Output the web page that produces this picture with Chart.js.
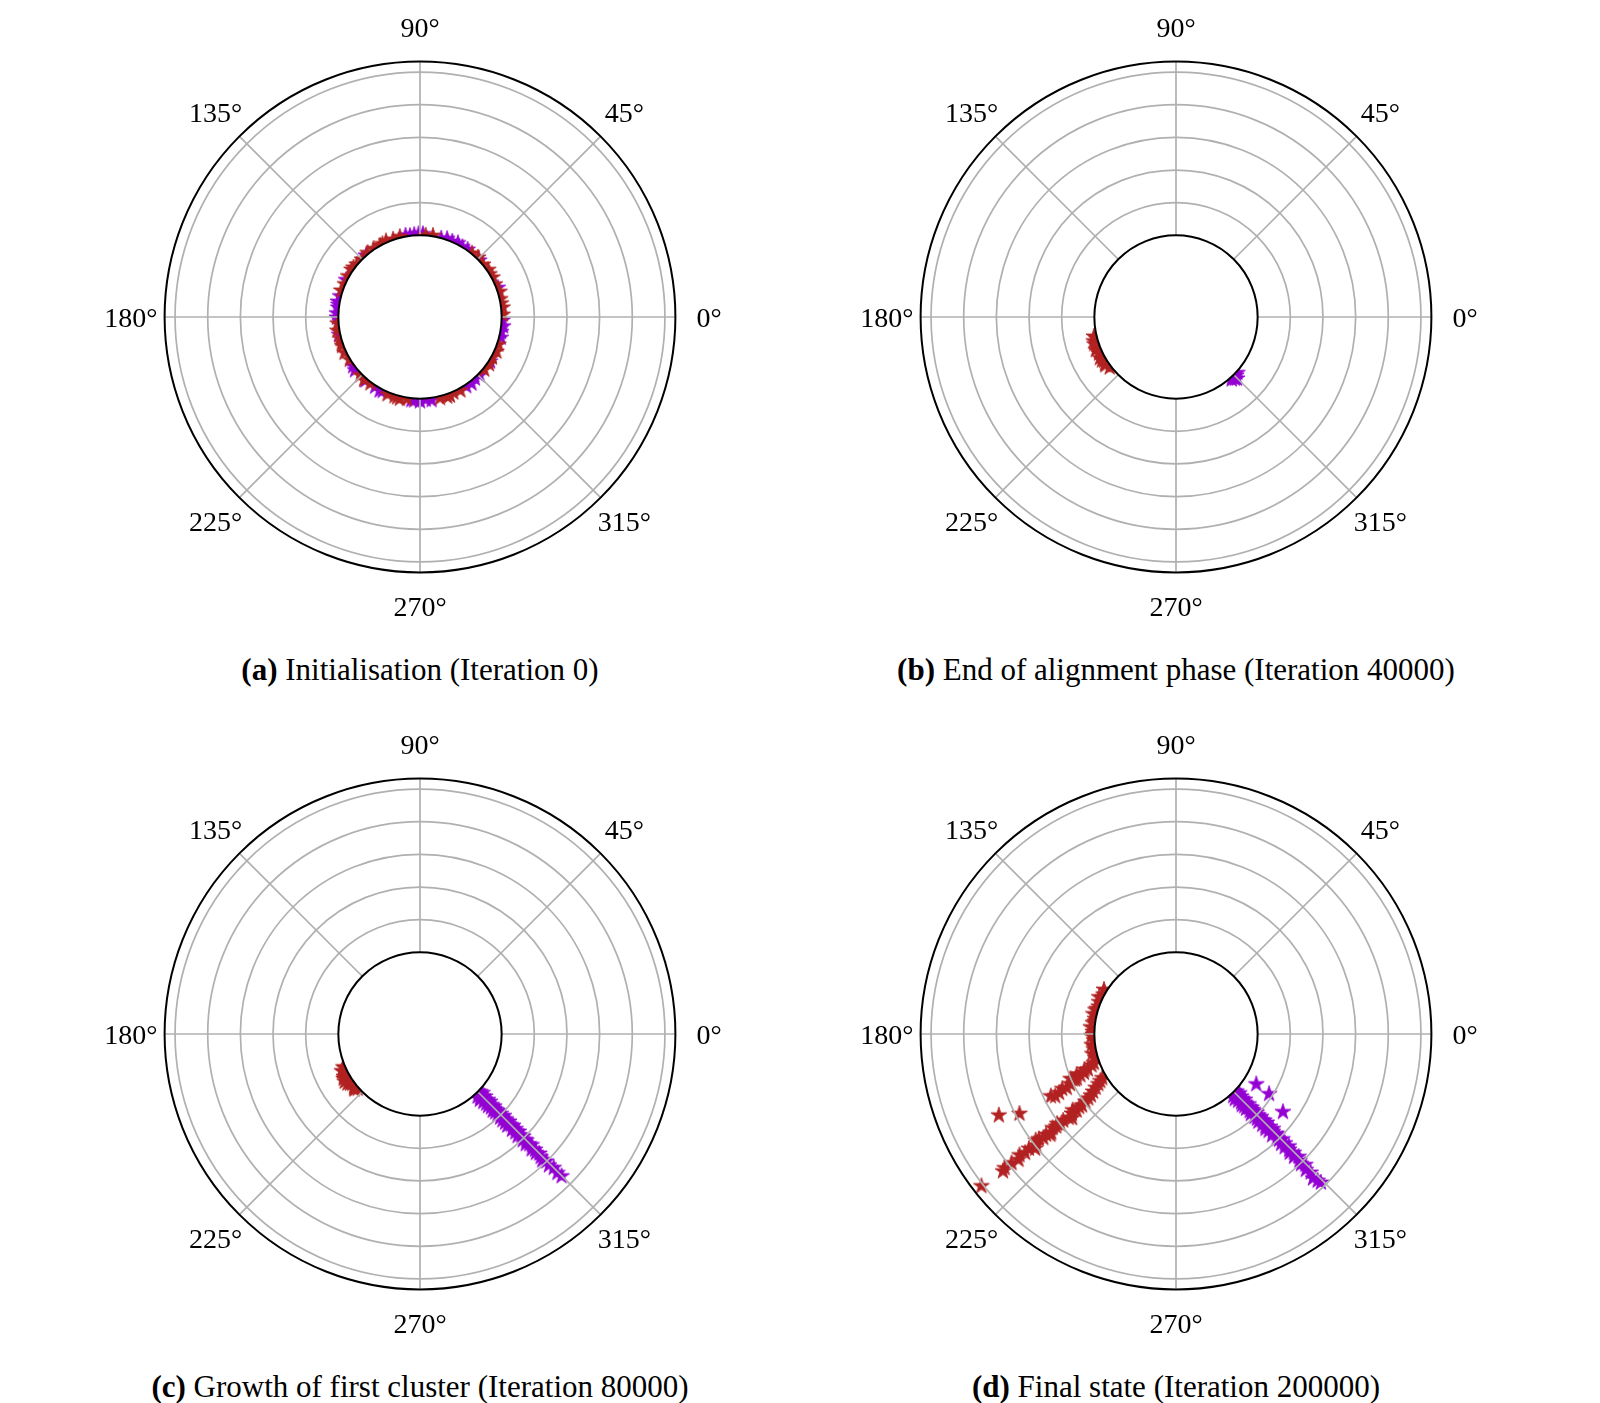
<!DOCTYPE html>
<html>
<head>
<meta charset="utf-8">
<title>Cluster angles over training</title>
<script src="https://cdn.jsdelivr.net/npm/chart.js@4.4.1/dist/chart.umd.min.js"></script>
<style>
    body { margin: 0; background: #fff; }
    #page { position: relative; width: 1600px; height: 1403px; overflow: hidden; background: #fff; }
    .panel { position: absolute; width: 640px; height: 640px; }
    .caption {
        position: absolute;
        width: 760px;
        text-align: center;
        font-family: 'Liberation Serif', 'Times New Roman', serif;
        font-size: 31px;
        line-height: 31px;
        color: #000;
        white-space: nowrap;
    }
</style>
</head>
<body>
<div id="page">
    <canvas id="chartA" class="panel" width="640" height="640" style="left:100px; top:-3px;"></canvas>
    <canvas id="chartB" class="panel" width="640" height="640" style="left:856px; top:-3px;"></canvas>
    <canvas id="chartC" class="panel" width="640" height="640" style="left:100px; top:714px;"></canvas>
    <canvas id="chartD" class="panel" width="640" height="640" style="left:856px; top:714px;"></canvas>
    <div class="caption" style="left:40px; top:654px;"><b>(a)</b> Initialisation (Iteration 0)</div>
    <div class="caption" style="left:796px; top:654px;"><b>(b)</b> End of alignment phase (Iteration 40000)</div>
    <div class="caption" style="left:40px; top:1371px;"><b>(c)</b> Growth of first cluster (Iteration 80000)</div>
    <div class="caption" style="left:796px; top:1371px;"><b>(d)</b> Final state (Iteration 200000)</div>
</div>
<script>
// Axis ticks
const angleTicks = [0, 45, 90, 135, 180, 225, 270, 315];
const angleLabels = ['0°', '45°', '90°', '135°', '180°', '225°', '270°', '315°'];
const radialTicks = [1, 2, 3, 4, 5];
const R_MAX = 5.32;
const R_ORIGIN = 2.5;   // size of the hole, in r units

// (a) Iteration 0
const redThetaA = [2, 7, 13, 18, 24, 29, 35, 40, 46, 51, 81, 86, 104, 109, 114, 119, 124, 129, 135, 140,
    145, 150, 156, 161, 184, 189, 195, 200, 205, 211, 224, 228, 233, 247, 252, 256, 261, 284, 289, 294,
    299, 321, 326, 331, 336, 341, 10, 32, 117, 143, 198, 254, 291];
const redRA = [0.03, 0.05, 0.02, 0.06, 0.01, 0.04, 0.05, 0.02, 0.06, 0.03, 0.04, 0.02, 0.05, 0.03, 0.06, 0.02, 0.04, 0.05, 0.01, 0.03,
    0.06, 0.04, 0.02, 0.05, 0.03, 0.06, 0.02, 0.04, 0.05, 0.01, 0.04, 0.06, 0.02, 0.05, 0.03, 0.06, 0.02, 0.04, 0.06, 0.01,
    0.05, 0.03, 0.05, 0.02, 0.06, 0.04, 0.02, 0.01, 0.03, 0.05, 0.02, 0.04, 0.06];
const purpleThetaA = [55, 59, 63, 67, 71, 75, 91, 94, 97, 100, 165, 169, 173, 177, 180, 216, 219, 237, 241, 266,
    270, 274, 278, 304, 308, 312, 316, 346, 350, 354, 358, 131, 153, 192, 229, 243, 264, 328, 21, 44, 88, 171];
const purpleRA = [0.04, 0.02, 0.06, 0.03, 0.05, 0.01, 0.06, 0.04, 0.02, 0.05, 0.03, 0.06, 0.02, 0.05, 0.04, 0.03, 0.06, 0.02, 0.05, 0.04,
    0.06, 0.02, 0.05, 0.03, 0.06, 0.01, 0.04, 0.05, 0.02, 0.06, 0.03, 0.02, 0.04, 0.03, 0.05, 0.02, 0.04, 0.03, 0.05, 0.02, 0.06, 0.03];

// (b) Iteration 40000
const redThetaB = [193, 196, 199, 202, 205, 208, 211, 214, 217, 195, 201, 207, 213, 198, 204, 210];
const redRB = [0.08, 0.12, 0.05, 0.15, 0.10, 0.14, 0.07, 0.11, 0.04, 0.02, 0.06, 0.03, 0.09, 0.13, 0.05, 0.12];
const purpleThetaB = [312, 314, 316, 318, 315, 313];
const purpleRB = [0.05, 0.10, 0.06, 0.03, 0.14, 0.02];

// (c) Iteration 80000
const redThetaC = [203, 206, 209, 212, 215, 218, 221, 205, 210, 214, 219, 207, 212, 216, 204, 220];
const redRC = [0.05, 0.10, 0.16, 0.08, 0.12, 0.06, 0.03, 0.14, 0.20, 0.18, 0.10, 0.04, 0.22, 0.07, 0.02, 0.12];
const purpleThetaC = [316.4, 312.9, 317.0, 313.8, 312.6, 316.5, 314.8, 313.2, 316.1, 313.8,
    316.2, 313.6, 315.5, 314.3, 316.0, 313.7, 315.2, 314.1, 315.8, 313.9,
    315.6, 314.0, 315.9, 313.9, 315.4, 314.0, 315.7, 313.8, 315.1, 315.6,
    314.0, 315.4, 314.3, 315.5, 313.9, 315.1, 315.4, 314.2, 315.2, 314.0,
    314.9, 315.3, 314.2, 315.0, 314.4, 315.1, 314.6, 314.2, 314.9, 314.6, 315.1, 314.8, 315.0];
const purpleRC = [0.05, 0.09, 0.12, 0.16, 0.21, 0.25, 0.30, 0.33, 0.38, 0.43,
    0.47, 0.52, 0.57, 0.61, 0.66, 0.72, 0.76, 0.81, 0.87, 0.92,
    0.97, 1.03, 1.08, 1.14, 1.19, 1.25, 1.31, 1.36, 1.42, 1.49,
    1.55, 1.61, 1.68, 1.74, 1.81, 1.88, 1.94, 2.01, 2.09, 2.16,
    2.24, 2.31, 2.40, 2.48, 2.57, 2.66, 2.76, 2.87, 2.98, 3.12, 3.28, 3.47, 3.63];

// (d) Iteration 200000
const redThetaD = [148, 151, 154, 157, 160, 163, 166, 169, 172, 175, 178, 181, 184, 187, 190, 193, 196, 199, 153, 162, 171, 180, 189,
    200, 201.5, 202.5, 203, 202, 204, 203.5, 205, 206, 205.5, 206.5, 207, 206.2, 204.5, 206.8, 201, 203.8, 202.8,
    210.5, 211.5, 212.5, 213.5, 214.5, 215.5, 216, 216.5, 217, 216.8, 217.4, 217.2, 217.8, 217.3, 218.0,
    217.5, 217.1, 218.2, 217.6, 217.9, 217.3, 218.4, 217.8, 218.1, 217.6, 218.5, 218.0, 217.9, 218.3, 217.9,
    216.2, 218.8, 216.9, 218.6, 217.0, 219.0];
const redRD = [0.10, 0.04, 0.12, 0.06, 0.02, 0.08, 0.11, 0.03, 0.07, 0.12, 0.05, 0.09, 0.02, 0.10, 0.06, 0.13, 0.08, 0.16, 0.01, 0.05, 0.02, 0.04, 0.03,
    0.25, 0.40, 0.55, 0.68, 0.78, 0.88, 0.95, 1.08, 1.22, 1.36, 1.50, 1.65, 1.77, 3.46, 2.87, 0.50, 0.82, 1.00,
    0.12, 0.22, 0.32, 0.45, 0.58, 0.70, 0.82, 0.95, 1.10, 1.20, 1.33, 1.50, 1.66, 1.84, 1.98,
    2.12, 2.24, 2.36, 2.52, 2.65, 2.78, 2.96, 3.20, 3.37, 3.55, 3.66, 3.89, 4.15, 4.25, 5.05,
    1.42, 1.58, 2.05, 2.42, 2.88, 3.05];
const purpleThetaD = [316.8, 312.9, 315.5, 317.2, 312.4, 314.6, 316.5, 313.2, 315.9, 313.9,
    316.6, 313.0, 315.3, 313.6, 316.2, 313.4, 314.9, 316.0, 313.9, 315.6,
    313.3, 315.9, 316.0, 313.6, 315.6, 313.9, 315.9, 313.4, 315.2, 315.8,
    313.7, 315.9, 314.3, 313.5, 315.6, 313.9, 315.8, 314.9, 313.7, 315.4,
    315.5, 313.9, 314.4, 315.5, 313.9, 315.1, 314.0, 315.3, 314.5, 313.9,
    314.9, 314.0, 315.1, 314.4, 314.0, 314.8, 313.8, 314.3,
    328.3, 327.5, 324.1, 313.6, 314.1, 314.4];
const purpleRD = [0.04, 0.07, 0.10, 0.14, 0.17, 0.21, 0.25, 0.28, 0.33, 0.37,
    0.40, 0.45, 0.49, 0.53, 0.58, 0.62, 0.66, 0.71, 0.75, 0.80,
    0.84, 0.89, 0.93, 0.98, 1.03, 1.07, 1.12, 1.17, 1.22, 1.27,
    1.32, 1.37, 1.42, 1.48, 1.53, 1.59, 1.64, 1.70, 1.76, 1.82,
    1.88, 1.94, 2.01, 2.07, 2.14, 2.21, 2.29, 2.36, 2.44, 2.52,
    2.61, 2.70, 2.80, 2.90, 3.01, 3.12, 3.24, 3.40,
    0.39, 0.88, 1.54, 3.58, 3.73, 3.84];

const RED = '#b22222';
const PURPLE = '#9400d3';
const GRID_COLOR = '#b0b0b0';
const TICK_FONT = "28px 'Liberation Serif', 'Times New Roman', serif";
const OUTER_PX = 255.4;
const PAD = 320 - OUTER_PX;
const EXTENT = R_MAX + R_ORIGIN;
const LABEL_R = R_MAX + 1.03;

document.addEventListener('DOMContentLoaded', function() {
    buildChart('chartA', redThetaA, redRA, purpleThetaA, purpleRA);
    buildChart('chartB', redThetaB, redRB, purpleThetaB, purpleRB);
    buildChart('chartC', redThetaC, redRC, purpleThetaC, purpleRC);
    buildChart('chartD', redThetaD, redRD, purpleThetaD, purpleRD);
});

function makeStar(color) {
    const c = document.createElement('canvas');
    c.width = 20;
    c.height = 20;
    const g = c.getContext('2d');
    const outer = 8.4;
    const inner = outer * 0.382;
    g.beginPath();
    for (let k = 0; k < 10; k++) {
        const a = -Math.PI / 2 + k * Math.PI / 5;
        const rr = k % 2 === 0 ? outer : inner;
        const px = 10 + rr * Math.cos(a);
        const py = 10.6 + rr * Math.sin(a);
        if (k === 0) g.moveTo(px, py); else g.lineTo(px, py);
    }
    g.closePath();
    g.fillStyle = color;
    g.fill();
    g.strokeStyle = color;
    g.lineWidth = 0.8;
    g.stroke();
    return c;
}

// polar (theta in degrees, r) -> cartesian data values with the hole offset
function toPoints(thetas, radii) {
    return thetas.map((t, i) => {
        const a = t * Math.PI / 180;
        const rr = radii[i] + R_ORIGIN;
        return { x: rr * Math.cos(a), y: rr * Math.sin(a) };
    });
}

function polarPixel(chart, deg, r) {
    const a = deg * Math.PI / 180;
    const rr = r + R_ORIGIN;
    return {
        x: chart.scales.x.getPixelForValue(rr * Math.cos(a)),
        y: chart.scales.y.getPixelForValue(rr * Math.sin(a))
    };
}

function radiusPx(chart, r) {
    const xs = chart.scales.x;
    return (xs.getPixelForValue(r + R_ORIGIN) - xs.getPixelForValue(0));
}

const polarFrame = {
    id: 'polarFrame',
    beforeDatasetsDraw(chart) {
        const ctx = chart.ctx;
        const cx = chart.scales.x.getPixelForValue(0);
        const cy = chart.scales.y.getPixelForValue(0);
        ctx.save();
        ctx.beginPath();
        ctx.arc(cx, cy, radiusPx(chart, R_MAX), 0, Math.PI * 2);
        ctx.arc(cx, cy, radiusPx(chart, 0), 0, Math.PI * 2, true);
        ctx.clip();
    },
    afterDatasetsDraw(chart) {
        const ctx = chart.ctx;
        ctx.restore();
        const cx = chart.scales.x.getPixelForValue(0);
        const cy = chart.scales.y.getPixelForValue(0);

        ctx.save();
        ctx.strokeStyle = GRID_COLOR;
        ctx.lineWidth = 1.7;
        radialTicks.forEach(t => {
            ctx.beginPath();
            ctx.arc(cx, cy, radiusPx(chart, t), 0, Math.PI * 2);
            ctx.stroke();
        });
        angleTicks.forEach(deg => {
            const p0 = polarPixel(chart, deg, 0);
            const p1 = polarPixel(chart, deg, R_MAX);
            ctx.beginPath();
            ctx.moveTo(p0.x, p0.y);
            ctx.lineTo(p1.x, p1.y);
            ctx.stroke();
        });

        ctx.strokeStyle = '#000';
        ctx.lineWidth = 2;
        ctx.beginPath();
        ctx.arc(cx, cy, radiusPx(chart, R_MAX), 0, Math.PI * 2);
        ctx.stroke();
        ctx.beginPath();
        ctx.arc(cx, cy, radiusPx(chart, 0), 0, Math.PI * 2);
        ctx.stroke();

        ctx.fillStyle = '#000';
        ctx.font = TICK_FONT;
        ctx.textAlign = 'center';
        ctx.textBaseline = 'alphabetic';
        angleTicks.forEach((deg, i) => {
            const p = polarPixel(chart, deg, LABEL_R);
            ctx.fillText(angleLabels[i], p.x, p.y + 9.5);
        });
        ctx.restore();
    }
};

function buildChart(canvasId, redTheta, redR, purpleTheta, purpleR) {
    const ctx = document.getElementById(canvasId).getContext('2d');
    new Chart(ctx, {
        type: 'scatter',
        data: {
            datasets: [{
                label: 'Cluster 1',
                data: toPoints(redTheta, redR),
                pointStyle: makeStar(RED),
                pointRadius: 8,
                backgroundColor: RED,
                borderColor: RED
            }, {
                label: 'Cluster 2',
                data: toPoints(purpleTheta, purpleR),
                pointStyle: makeStar(PURPLE),
                pointRadius: 8,
                backgroundColor: PURPLE,
                borderColor: PURPLE
            }]
        },
        options: {
            responsive: false,
            animation: false,
            events: [],
            layout: { padding: PAD },
            scales: {
                x: { type: 'linear', display: false, min: -EXTENT, max: EXTENT },
                y: { type: 'linear', display: false, min: -EXTENT, max: EXTENT }
            },
            plugins: {
                legend: { display: false },
                tooltip: { enabled: false }
            }
        },
        plugins: [polarFrame]
    });
}
</script>
</body>
</html>
